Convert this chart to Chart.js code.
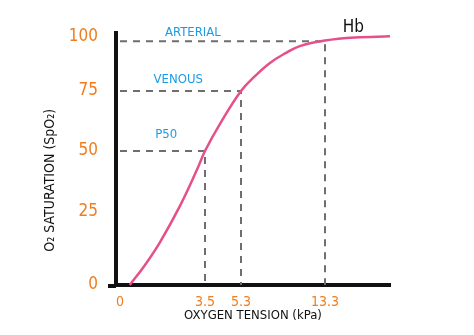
<!DOCTYPE html>
<html>
<head>
<meta charset="utf-8">
<script src="https://cdn.jsdelivr.net/npm/chart.js@4.4.1/dist/chart.umd.min.js"></script>
<style>
  html, body { margin: 0; padding: 0; background: #fff; }
  #wrap { width: 474px; height: 335px; }
</style>
</head>
<body>
<div id="wrap"><canvas id="odc"></canvas></div>
<script>
// Hb dissociation curve (kPa vs % saturation)
const curveKpa = [0.4, 1.0, 1.65, 2.47, 3.2, 3.5, 4.25, 5.3, 6.63, 8.06, 9.5, 10.9, 13.3, 16.2, 19.5];
const curveSat = [0, 6.5, 14.7, 27.5, 43, 50, 61.3, 75, 81.9, 88, 92.4, 95.8, 98.4, 99.8, 100.3];

// marked points on the curve
const refNames = ['P50', 'VENOUS', 'ARTERIAL'];
const refKpa = [3.5, 5.3, 13.3];
const refSat = [50, 75, 98];

const xTickKpa = [0, 3.5, 5.3, 13.3];
const yTickSat = [0, 25, 50, 75, 100];

const curveName = 'Hb';
const xTitle = 'OXYGEN TENSION (kPa)';
const yTitle = 'O₂ SATURATION (SpO₂)';

// the sketch is not drawn to scale, so both axes go through a piecewise map
const X_WARP = { from: [0, 3.5, 5.3, 13.3, 19.5], to: [0, 85, 121, 205, 270] };
const Y_WARP = { from: [0, 25, 50, 75, 100], to: [0, 73, 134, 194, 248] };

function warp(v, m) {
  const a = m.from, b = m.to;
  let i = 0;
  while (i < a.length - 2 && v > a[i + 1]) i++;
  return b[i] + (v - a[i]) * (b[i + 1] - b[i]) / (a[i + 1] - a[i]);
}

function pt(kpa, sat) {
  return { x: warp(kpa, X_WARP), y: warp(sat, Y_WARP) };
}

const ORANGE = '#ef7d1f';
const BLUE = '#1b9be4';
const INK = '#111';
const HAND = '"DejaVu Sans Condensed", "DejaVu Sans", sans-serif';

const curveLine = {
  label: curveName,
  data: curveKpa.map((k, i) => pt(k, curveSat[i])),
  borderColor: '#e6508a',
  borderWidth: 2.5,
  pointRadius: 0,
  tension: 0.4,
  clip: false,
};

const refLines = refNames.map((name, i) => ({
  label: name,
  data: [pt(0, refSat[i]), pt(refKpa[i], refSat[i]), pt(refKpa[i], 0)],
  borderColor: '#6e6e6e',
  borderWidth: 2,
  borderDash: [7, 6],
  pointRadius: 0,
  tension: 0,
}));

// text on the sketch: curve label, reference labels, y title; plus the axis stub left of 0
const notes = {
  id: 'notes',
  afterDraw(chart) {
    const { ctx, scales: { x, y }, chartArea } = chart;
    const at = (kpa, sat) => [x.getPixelForValue(warp(kpa, X_WARP)), y.getPixelForValue(warp(sat, Y_WARP))];
    ctx.save();
    ctx.strokeStyle = INK;
    ctx.lineWidth = 4;
    ctx.beginPath();
    ctx.moveTo(chartArea.left - 8, chartArea.bottom + 1);
    ctx.lineTo(chartArea.left, chartArea.bottom + 1);
    ctx.stroke();

    ctx.textAlign = 'center';
    ctx.textBaseline = 'middle';

    ctx.fillStyle = BLUE;
    ctx.font = '13px ' + HAND;
    const spots = { ARTERIAL: [3.0, 101.9], VENOUS: [2.4, 80.1], P50: [1.9, 56.7] };
    refNames.forEach(n => {
      const [px, py] = at(spots[n][0], spots[n][1]);
      ctx.fillText(n, px, py);
    });

    ctx.fillStyle = INK;
    ctx.font = '17px ' + HAND;
    const [hx, hy] = at(16.0, 104.2);
    ctx.fillText(curveName, hx, hy);

    ctx.font = '14px ' + HAND;
    ctx.translate(chartArea.left - 66, y.getPixelForValue(warp(38, Y_WARP)));
    ctx.rotate(-Math.PI / 2);
    ctx.fillText(yTitle, 0, 0);
    ctx.restore();
  },
};

new Chart(document.getElementById('odc'), {
  type: 'line',
  data: { datasets: [curveLine, ...refLines] },
  options: {
    responsive: true,
    maintainAspectRatio: false,
    animation: false,
    layout: { padding: { top: 33, right: 84, left: 0, bottom: 0 } },
    plugins: { legend: { display: false }, tooltip: { enabled: false } },
    scales: {
      x: {
        type: 'linear',
        min: -4,
        max: 270,
        grid: { display: false },
        border: { color: INK, width: 4 },
        afterFit: (s) => { s.height = 50; },
        afterBuildTicks: (s) => { s.ticks = xTickKpa.map(k => ({ value: warp(k, X_WARP) })); },
        ticks: {
          autoSkip: false,
          maxRotation: 0,
          padding: 1,
          color: ORANGE,
          font: { family: HAND, size: 14 },
          callback: (v, i) => String(xTickKpa[i]),
        },
        title: {
          display: true,
          text: xTitle,
          color: INK,
          font: { family: HAND, size: 13 },
          padding: { top: 0, bottom: 12 },
        },
      },
      y: {
        type: 'linear',
        min: 0,
        max: 252,
        grid: { display: false },
        border: { color: INK, width: 4 },
        afterFit: (s) => { s.width = 116; },
        afterBuildTicks: (s) => { s.ticks = yTickSat.map(v => ({ value: warp(v, Y_WARP) })); },
        ticks: {
          autoSkip: false,
          padding: 10,
          color: ORANGE,
          font: { family: HAND, size: 17 },
          callback: (v, i) => String(yTickSat[i]),
        },
      },
    },
  },
  plugins: [notes],
});
</script>
</body>
</html>
